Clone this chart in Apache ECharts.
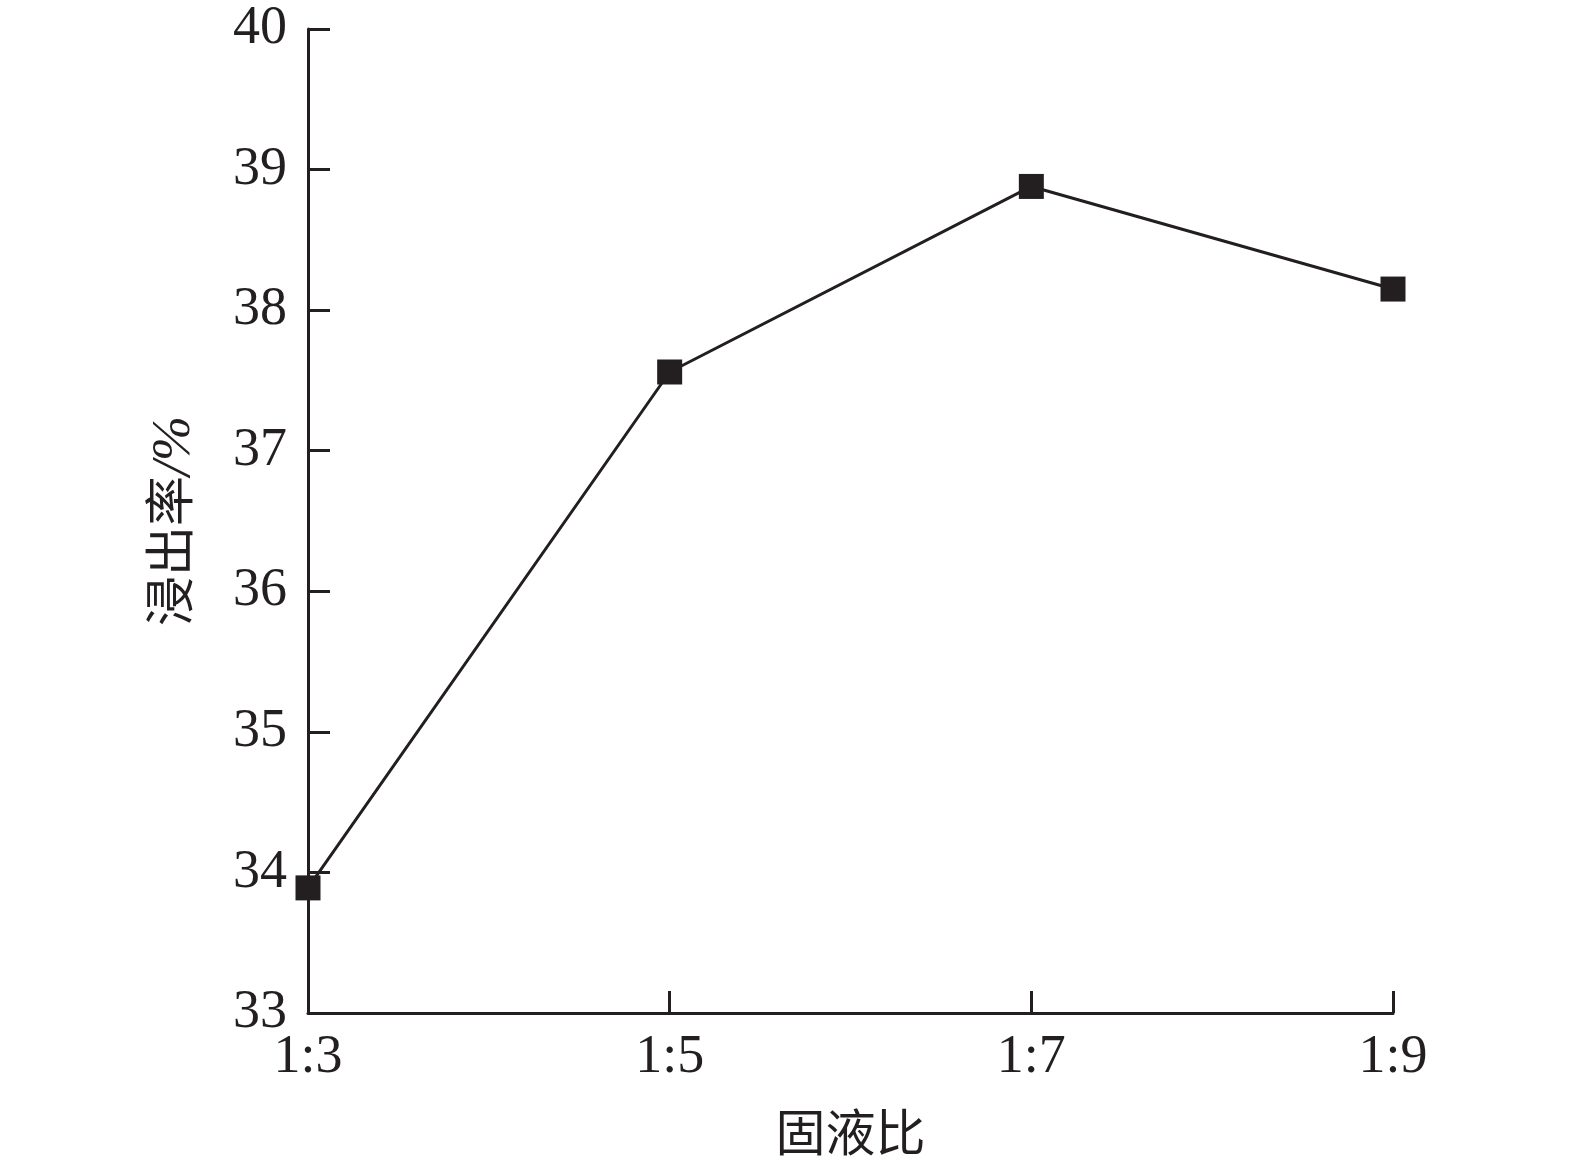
<!DOCTYPE html>
<html><head><meta charset="utf-8">
<script src="https://cdn.jsdelivr.net/npm/echarts@6/dist/echarts.min.js"></script>
<style>html,body{margin:0;padding:0;background:#fff}#c{width:1575px;height:1163px}</style>
</head><body><div id="c"></div>
<script>
const categories = ['1:3', '1:5', '1:7', '1:9'];
const leachRate = [33.89, 37.56, 38.88, 38.15];
const yMin = 33, yMax = 40, yInterval = 1;
const xName = '固液比';
const yNameMain = '浸出率';
const yNameUnit = '/%';

const ink = '#231f20';
const font = "'Liberation Serif','Noto Sans CJK SC',serif";
const chart = echarts.init(document.getElementById('c'));
chart.setOption({
  backgroundColor: '#fff',
  animation: false,
  grid: { left: 308, right: 182, top: 29, bottom: 150, containLabel: false, outerBoundsMode: 'none' },
  xAxis: {
    type: 'category', data: categories, boundaryGap: false,
    name: xName, nameLocation: 'middle', nameGap: 100,
    nameTextStyle: { fontFamily: font, fontSize: 50, color: ink },
    axisLine: { lineStyle: { color: ink, width: 3 } },
    axisTick: { inside: true, length: 22, alignWithLabel: true, lineStyle: { color: ink, width: 3 } },
    axisLabel: { fontFamily: font, fontSize: 54, color: ink, margin: 18 },
    splitLine: { show: false }
  },
  yAxis: {
    type: 'value', min: yMin, max: yMax, interval: yInterval,
    name: yNameMain + '{u|' + yNameUnit + '}', nameLocation: 'middle', nameGap: 106, nameRotate: 90,
    nameTextStyle: {
      fontFamily: font, fontSize: 50, color: ink,
      rich: { u: { fontFamily: "'Liberation Serif',serif", fontStyle: 'italic', fontSize: 54, color: ink } }
    },
    axisLine: { show: true, lineStyle: { color: ink, width: 3 } },
    axisTick: { show: true, inside: true, length: 22, lineStyle: { color: ink, width: 3 } },
    axisLabel: { fontFamily: font, fontSize: 54, color: ink, margin: 21 },
    splitLine: { show: false }
  },
  series: [{
    type: 'line', data: leachRate,
    symbol: 'rect', symbolSize: 25,
    itemStyle: { color: ink },
    lineStyle: { color: ink, width: 3 }
  }]
});
</script></body></html>
